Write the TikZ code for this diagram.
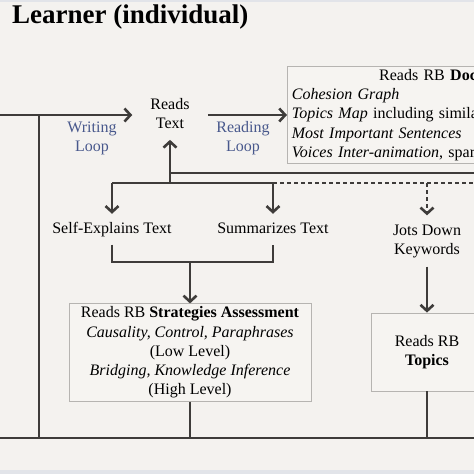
\documentclass[tikz,border=0pt]{standalone}
\usepackage{fontspec}
\setmainfont{Liberation Serif}
\usetikzlibrary{arrows.meta}
\definecolor{bgcol}{RGB}{244,242,239}
\definecolor{stripcol}{RGB}{226,228,233}
\definecolor{linecol}{RGB}{62,60,58}
\definecolor{boxcol}{RGB}{182,180,177}
\definecolor{boxfill}{RGB}{246,244,241}
\definecolor{loopcol}{RGB}{72,88,140}
\tikzset{
  flow/.style={line width=2.6pt,draw=linecol},
  arr/.style={flow,-{Straight Barb[length=6pt,width=13pt]}},
  lbl/.style={align=center,font=\fontsize{16}{19}\selectfont,inner xsep=0pt,inner ysep=8pt},
  oneline/.style={lbl,anchor=base,text height=11pt,text depth=3.5pt},
  looplbl/.style={lbl,text=loopcol},
  rbbox/.style={draw=boxcol,line width=0.8pt,fill=boxfill,font=\fontsize{16}{19.2}\selectfont,inner xsep=4.5pt,inner ysep=3pt},
}
\begin{document}
\begin{tikzpicture}[x=1pt,y=-1pt]
\useasboundingbox (0,0) rectangle (474,474);
\clip (0,0) rectangle (474,474);
\fill[bgcol] (0,0) rectangle (474,474);
\fill[stripcol] (0,0) rectangle (474,2);
\fill[stripcol] (0,470) rectangle (474,474);
% texts and boxes
\node[anchor=base west,inner sep=0pt,font=\bfseries\fontsize{27}{30}\selectfont] (title) at (12,23) {Learner (individual)};
\node[lbl,inner xsep=18pt,inner ysep=11pt] (reads) at (170,113.5) {Reads\\Text};
\node[looplbl] (wloop) at (92,138) {Writing\\Loop};
\node[looplbl] (rloop) at (243,138) {Reading\\Loop};
\node[rbbox,anchor=north west,text width=322pt,align=left,minimum height=96pt] (docs) at (287,66)
  {\makebox[322pt][c]{Reads RB \textbf{Documents}}\\
   \textit{Cohesion Graph}\\
   \textit{Topics Map} including similar concepts\\
   \textit{Most Important Sentences}\\
   \textit{Voices Inter-animation}, sparklines};
\node[oneline] (selfexp) at (112,233) {Self-Explains Text};
\node[oneline] (summ) at (273,233) {Summarizes Text};
\node[lbl,inner ysep=9pt] (jots) at (427,241) {Jots Down\\Keywords};
\node[rbbox,align=center,minimum width=242pt,minimum height=97pt] (strat) at (190,352.5)
  {Reads RB \textbf{Strategies Assessment}\\
   \textit{Causality, Control, Paraphrases}\\
   (Low Level)\\
   \textit{Bridging, Knowledge Inference}\\
   (High Level)};
\node[rbbox,align=center,minimum width=112pt,minimum height=78pt] (topics) at (427,352)
  {Reads RB\\\textbf{Topics}};
% junctions
\coordinate (lmain) at (0,115);
\coordinate (wlTop) at (39,115);
\coordinate (hubTop) at (170,173);
\coordinate (rbR) at (474,173);
\coordinate (hub) at (170,183);
\coordinate (splitL) at (112,183);
\coordinate (splitR) at (273,183);
\coordinate (jotsTop) at (427,183);
\coordinate (dashE) at (474,183);
\coordinate (merge) at (190,262);
\coordinate (botL) at (0,438);
\coordinate (botR) at (474,438);
% connectors
\draw[arr] (lmain) -- (lmain -| reads.west);
\draw[arr] (reads.east |- lmain) -- (docs.west |- lmain);
\draw[flow] (wlTop) -- (wlTop |- botL);
\draw[flow] (hubTop) -- (rbR);
\draw[arr] (hub) -- (reads.south);
\draw[flow] (splitL) -- (splitR);
\draw[flow,dash pattern=on 4pt off 3pt] (splitR) -- (dashE);
\draw[arr] (splitL) -- (selfexp.north);
\draw[arr] (splitR) -- (summ.north);
\draw[arr,dash pattern=on 4pt off 3pt] (jotsTop) -- (jots.north);
\draw[flow] (selfexp.south) |- (merge) -| (summ.south);
\draw[arr] (merge) -- (strat.north);
\draw[arr] (jots.south) -- (topics.north);
\draw[flow] (strat.south) -- (strat.south |- botL);
\draw[flow] (topics.south) -- (topics.south |- botL);
\draw[flow] (botL) -- (botR);
\end{tikzpicture}
\end{document}
